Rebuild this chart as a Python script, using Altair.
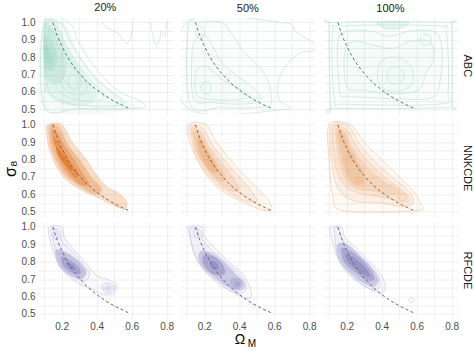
import altair as alt
import pandas as pd

# ---------------- data ----------------
METHODS = ["ABC", "NNKCDE", "RFCDE"]
FRACTIONS = ["20%", "50%", "100%"]

X_TICKS = [0.1, 0.2, 0.3, 0.4, 0.5, 0.6, 0.7, 0.8]
Y_TICKS = [0.5, 0.55, 0.6, 0.65, 0.7, 0.75, 0.8, 0.85, 0.9, 0.95, 1.0]

# dashed reference curve (Omega_M, sigma_8)
DASH_OM = [0.15, 0.175, 0.2, 0.225, 0.25, 0.3, 0.35, 0.4, 0.45, 0.5, 0.55, 0.58]
DASH_S8 = [1.0, 0.925, 0.866, 0.816, 0.774, 0.707, 0.654, 0.612, 0.577, 0.547, 0.522, 0.508]

# ---- ABC 20% ----
ABC20_FILL = [
    [(0.1, 1.0), (0.21, 1.0), (0.28, 0.86), (0.36, 0.73), (0.46, 0.63), (0.56, 0.56), (0.6, 0.5), (0.1, 0.5)],
    [(0.1, 1.0), (0.17, 1.0), (0.22, 0.88), (0.28, 0.77), (0.35, 0.67), (0.4, 0.59), (0.36, 0.53), (0.26, 0.52), (0.17, 0.55), (0.11, 0.6), (0.1, 0.64)],
    [(0.1, 0.98), (0.15, 0.96), (0.19, 0.87), (0.22, 0.79), (0.23, 0.72), (0.2, 0.66), (0.15, 0.65), (0.11, 0.68), (0.1, 0.72)],
    [(0.1, 0.92), (0.14, 0.9), (0.17, 0.83), (0.17, 0.76), (0.14, 0.72), (0.11, 0.73), (0.1, 0.76)],
    [(0.1, 0.87), (0.13, 0.85), (0.15, 0.8), (0.14, 0.76), (0.11, 0.77), (0.1, 0.8)],
]
ABC20_LINES = [
    [(0.1, 1.0), (0.24, 1.0), (0.3, 0.88), (0.37, 0.77), (0.45, 0.67), (0.53, 0.6), (0.6, 0.57), (0.66, 0.54), (0.68, 0.515), (0.6, 0.505), (0.3, 0.505), (0.1, 0.52)],
    [(0.11, 0.99), (0.2, 0.99), (0.26, 0.87), (0.33, 0.76), (0.41, 0.66), (0.5, 0.59), (0.55, 0.54), (0.5, 0.52), (0.36, 0.52), (0.22, 0.54), (0.13, 0.6), (0.11, 0.75)],
    [(0.13, 0.97), (0.18, 0.96), (0.23, 0.86), (0.3, 0.75), (0.37, 0.66), (0.44, 0.59), (0.42, 0.55), (0.32, 0.55), (0.22, 0.58), (0.16, 0.65), (0.13, 0.78)],
    [(0.14, 0.93), (0.18, 0.92), (0.22, 0.84), (0.28, 0.74), (0.34, 0.65), (0.33, 0.59), (0.26, 0.59), (0.2, 0.64), (0.16, 0.72), (0.14, 0.82)],
    [(0.16, 0.88), (0.2, 0.85), (0.24, 0.76), (0.3, 0.69), (0.31, 0.63), (0.26, 0.61), (0.22, 0.66), (0.18, 0.74), (0.15, 0.8)],
    [(0.17, 0.85), (0.2, 0.83), (0.21, 0.79), (0.18, 0.77), (0.16, 0.81)],
    [(0.25, 0.7), (0.28, 0.69), (0.29, 0.64), (0.26, 0.62), (0.24, 0.65)],
]
ABC20_OPEN = [
    [(0.43, 1.0), (0.46, 0.97), (0.5, 0.95), (0.53, 0.93), (0.55, 0.9), (0.57, 0.88), (0.59, 0.9), (0.6, 0.94), (0.61, 1.0)],
    [(0.71, 1.0), (0.72, 0.93), (0.74, 0.87), (0.76, 0.9), (0.77, 0.95), (0.79, 0.92), (0.8, 1.0)],
]

# ---- ABC 50% ----
ABC50_LINES = [
    [(0.1, 0.51), (0.1, 1.0), (0.64, 1.0), (0.72, 0.95), (0.78, 0.91), (0.83, 0.88), (0.83, 0.84), (0.74, 0.82), (0.66, 0.74), (0.62, 0.64), (0.63, 0.55), (0.66, 0.5)],
    [(0.12, 0.53), (0.11, 0.97), (0.18, 1.0), (0.3, 1.0), (0.36, 0.93), (0.42, 0.84), (0.5, 0.76), (0.56, 0.68), (0.58, 0.6), (0.58, 0.53), (0.5, 0.51), (0.3, 0.51)],
    [(0.14, 0.56), (0.13, 0.8), (0.15, 0.9), (0.2, 0.93), (0.25, 0.86), (0.3, 0.77), (0.38, 0.7), (0.46, 0.64), (0.52, 0.58), (0.5, 0.54), (0.38, 0.53), (0.24, 0.54)],
    [(0.16, 0.58), (0.15, 0.7), (0.19, 0.75), (0.25, 0.72), (0.32, 0.66), (0.42, 0.61), (0.45, 0.57), (0.38, 0.555), (0.26, 0.555)],
    [(0.18, 0.62), (0.2, 0.66), (0.23, 0.65), (0.24, 0.61), (0.21, 0.59)],
    [(0.15, 0.95), (0.17, 0.98), (0.2, 0.96), (0.2, 0.92), (0.17, 0.91)],
]

# ---- ABC 100% ----
ABC100_LINES = [
    [(0.11, 0.52), (0.1, 0.97), (0.13, 1.0), (0.77, 1.0), (0.8, 0.97), (0.8, 0.54), (0.77, 0.51), (0.14, 0.505)],
    [(0.13, 0.56), (0.12, 0.94), (0.18, 0.98), (0.72, 0.98), (0.77, 0.94), (0.78, 0.6), (0.73, 0.53), (0.2, 0.53)],
    [(0.16, 0.6), (0.15, 0.89), (0.21, 0.95), (0.34, 0.95), (0.44, 0.92), (0.56, 0.95), (0.69, 0.95), (0.74, 0.88), (0.74, 0.7), (0.69, 0.57), (0.5, 0.56), (0.3, 0.57), (0.2, 0.575)],
    [(0.2, 0.63), (0.19, 0.84), (0.25, 0.89), (0.35, 0.87), (0.46, 0.85), (0.56, 0.89), (0.67, 0.89), (0.7, 0.8), (0.65, 0.7), (0.61, 0.61), (0.46, 0.59), (0.3, 0.61)],
    [(0.38, 0.66), (0.39, 0.77), (0.47, 0.8), (0.56, 0.76), (0.58, 0.66), (0.52, 0.61), (0.43, 0.61)],
    [(0.43, 0.69), (0.45, 0.74), (0.5, 0.74), (0.53, 0.69), (0.5, 0.65), (0.45, 0.65)],
    [(0.62, 0.9), (0.64, 0.93), (0.68, 0.92), (0.68, 0.88), (0.64, 0.87)],
    [(0.38, 1.0), (0.42, 0.965), (0.5, 0.965), (0.55, 1.0)],
]

# ---- NNKCDE ----
NNK20_LINES = [
    [(0.12, 1.0), (0.2, 1.0), (0.26, 0.9), (0.34, 0.8), (0.4, 0.71), (0.46, 0.64), (0.52, 0.61), (0.57, 0.56), (0.56, 0.515), (0.49, 0.54), (0.41, 0.58), (0.32, 0.62), (0.23, 0.68), (0.17, 0.76), (0.13, 0.86), (0.115, 0.95)],
    [(0.13, 0.99), (0.185, 0.985), (0.24, 0.88), (0.31, 0.79), (0.37, 0.7), (0.43, 0.63), (0.39, 0.6), (0.31, 0.64), (0.23, 0.7), (0.18, 0.77), (0.14, 0.87)],
    [(0.14, 0.97), (0.175, 0.96), (0.22, 0.88), (0.28, 0.79), (0.33, 0.71), (0.36, 0.655), (0.31, 0.65), (0.25, 0.7), (0.19, 0.78), (0.15, 0.88)],
    [(0.15, 0.94), (0.19, 0.89), (0.25, 0.8), (0.3, 0.72), (0.28, 0.69), (0.22, 0.75), (0.17, 0.83)],
    [(0.17, 0.88), (0.22, 0.82), (0.27, 0.75), (0.25, 0.73), (0.2, 0.79), (0.17, 0.84)],
]
NNK50_LINES = [
    [(0.11, 1.0), (0.21, 1.0), (0.27, 0.9), (0.35, 0.8), (0.44, 0.7), (0.52, 0.62), (0.58, 0.545), (0.58, 0.505), (0.5, 0.52), (0.4, 0.565), (0.3, 0.62), (0.22, 0.7), (0.16, 0.8), (0.12, 0.9)],
    [(0.12, 0.99), (0.19, 0.98), (0.25, 0.88), (0.32, 0.79), (0.4, 0.7), (0.47, 0.62), (0.5, 0.56), (0.44, 0.56), (0.36, 0.6), (0.27, 0.66), (0.2, 0.74), (0.15, 0.83), (0.13, 0.92)],
    [(0.13, 0.98), (0.18, 0.96), (0.23, 0.87), (0.3, 0.78), (0.36, 0.7), (0.4, 0.63), (0.35, 0.62), (0.28, 0.67), (0.21, 0.75), (0.16, 0.84), (0.14, 0.92)],
    [(0.14, 0.96), (0.17, 0.94), (0.22, 0.86), (0.28, 0.77), (0.32, 0.7), (0.3, 0.67), (0.24, 0.72), (0.18, 0.8), (0.15, 0.88)],
    [(0.16, 0.93), (0.2, 0.88), (0.25, 0.8), (0.28, 0.74), (0.25, 0.72), (0.2, 0.78), (0.17, 0.85)],
    [(0.17, 0.93), (0.2, 0.91), (0.21, 0.86), (0.18, 0.86), (0.16, 0.9)],
    [(0.22, 0.82), (0.26, 0.79), (0.27, 0.75), (0.24, 0.75), (0.21, 0.79)],
]
NNK100_LINES = [
    [(0.1, 1.0), (0.22, 1.0), (0.3, 0.9), (0.4, 0.8), (0.5, 0.7), (0.58, 0.62), (0.62, 0.55), (0.6, 0.505), (0.18, 0.505), (0.12, 0.6), (0.1, 0.8)],
    [(0.11, 0.99), (0.21, 0.99), (0.28, 0.88), (0.37, 0.78), (0.47, 0.69), (0.56, 0.61), (0.58, 0.55), (0.52, 0.53), (0.4, 0.55), (0.25, 0.56), (0.16, 0.62), (0.12, 0.75)],
    [(0.12, 0.98), (0.2, 0.97), (0.26, 0.87), (0.34, 0.77), (0.44, 0.68), (0.54, 0.6), (0.52, 0.56), (0.42, 0.58), (0.3, 0.6), (0.2, 0.64), (0.14, 0.75)],
    [(0.14, 0.97), (0.19, 0.95), (0.24, 0.85), (0.31, 0.76), (0.4, 0.68), (0.5, 0.62), (0.46, 0.6), (0.36, 0.62), (0.27, 0.63), (0.2, 0.68), (0.16, 0.8)],
    [(0.15, 0.95), (0.19, 0.93), (0.23, 0.84), (0.29, 0.74), (0.3, 0.67), (0.24, 0.66), (0.2, 0.72), (0.17, 0.83)],
    [(0.16, 0.97), (0.19, 0.96), (0.19, 0.91), (0.16, 0.91)],
    [(0.21, 0.83), (0.24, 0.84), (0.25, 0.79), (0.22, 0.78)],
    [(0.24, 0.7), (0.28, 0.7), (0.3, 0.66), (0.26, 0.65)],
    [(0.49, 0.6), (0.54, 0.6), (0.56, 0.56), (0.51, 0.56)],
]

# ---- RFCDE ----
RF20_LINES = [
    [(0.13, 1.0), (0.2, 1.0), (0.22, 0.93), (0.28, 0.86), (0.34, 0.79), (0.4, 0.72), (0.46, 0.7), (0.51, 0.67), (0.5, 0.62), (0.44, 0.61), (0.38, 0.64), (0.33, 0.66), (0.26, 0.7), (0.2, 0.76), (0.16, 0.84), (0.13, 0.94)],
    [(0.14, 0.99), (0.19, 0.98), (0.2, 0.92), (0.26, 0.86), (0.32, 0.79), (0.36, 0.73), (0.33, 0.69), (0.27, 0.72), (0.21, 0.77), (0.17, 0.85), (0.15, 0.93)],
    [(0.17, 0.87), (0.23, 0.85), (0.3, 0.8), (0.34, 0.74), (0.31, 0.7), (0.25, 0.72), (0.19, 0.77), (0.17, 0.82)],
    [(0.2, 0.83), (0.25, 0.81), (0.3, 0.77), (0.31, 0.73), (0.27, 0.73), (0.22, 0.76), (0.2, 0.79)],
    [(0.22, 0.8), (0.26, 0.79), (0.29, 0.75), (0.26, 0.75), (0.23, 0.77)],
    [(0.43, 0.66), (0.46, 0.68), (0.5, 0.66), (0.49, 0.63), (0.45, 0.62)],
    [(0.45, 0.65), (0.47, 0.66), (0.48, 0.645), (0.46, 0.635)],
    [(0.15, 0.97), (0.17, 0.98), (0.18, 0.94), (0.16, 0.93)],
]
RF50_LINES = [
    [(0.11, 1.0), (0.19, 1.0), (0.2, 0.95), (0.26, 0.88), (0.34, 0.8), (0.42, 0.73), (0.46, 0.66), (0.47, 0.6), (0.43, 0.59), (0.37, 0.62), (0.3, 0.66), (0.24, 0.71), (0.18, 0.78), (0.14, 0.86), (0.12, 0.94)],
    [(0.12, 0.99), (0.18, 0.98), (0.19, 0.93), (0.24, 0.87), (0.31, 0.81), (0.39, 0.74), (0.44, 0.67), (0.42, 0.62), (0.36, 0.63), (0.29, 0.68), (0.22, 0.73), (0.16, 0.81), (0.13, 0.9)],
    [(0.18, 0.86), (0.24, 0.85), (0.31, 0.8), (0.37, 0.74), (0.42, 0.68), (0.39, 0.64), (0.33, 0.66), (0.26, 0.71), (0.2, 0.76), (0.17, 0.81)],
    [(0.2, 0.84), (0.26, 0.83), (0.31, 0.78), (0.32, 0.73), (0.27, 0.72), (0.22, 0.75), (0.19, 0.8)],
    [(0.23, 0.81), (0.27, 0.8), (0.29, 0.76), (0.26, 0.75), (0.23, 0.77)],
    [(0.35, 0.7), (0.39, 0.71), (0.43, 0.68), (0.42, 0.64), (0.37, 0.64), (0.35, 0.67)],
    [(0.37, 0.69), (0.4, 0.69), (0.41, 0.66), (0.38, 0.65)],
    [(0.14, 0.98), (0.16, 0.99), (0.17, 0.95), (0.15, 0.94)],
]
RF100_LINES = [
    [(0.11, 1.0), (0.17, 1.0), (0.19, 0.94), (0.25, 0.88), (0.33, 0.8), (0.4, 0.72), (0.42, 0.65), (0.4, 0.62), (0.36, 0.63), (0.3, 0.66), (0.22, 0.72), (0.16, 0.8), (0.13, 0.88), (0.11, 0.95)],
    [(0.13, 0.99), (0.16, 0.98), (0.18, 0.92), (0.24, 0.87), (0.32, 0.79), (0.38, 0.72), (0.39, 0.66), (0.35, 0.64), (0.29, 0.67), (0.22, 0.73), (0.16, 0.8), (0.14, 0.88)],
    [(0.15, 0.9), (0.2, 0.9), (0.27, 0.84), (0.34, 0.77), (0.38, 0.7), (0.36, 0.66), (0.31, 0.67), (0.24, 0.72), (0.18, 0.78), (0.15, 0.84)],
    [(0.17, 0.88), (0.21, 0.87), (0.28, 0.82), (0.34, 0.75), (0.36, 0.7), (0.32, 0.69), (0.26, 0.73), (0.19, 0.79), (0.17, 0.84)],
    [(0.19, 0.85), (0.24, 0.83), (0.3, 0.78), (0.34, 0.72), (0.32, 0.71), (0.27, 0.74), (0.21, 0.79), (0.19, 0.82)],
    [(0.555, 0.585), (0.57, 0.595), (0.585, 0.58), (0.57, 0.565)],
]

# ---------------- styling ----------------
COLORS = {"ABC": "#1B9E77", "NNKCDE": "#D95F02", "RFCDE": "#7570B3"}
TINTS = {"ABC": "#b9e3d6", "NNKCDE": "#f5c6a3", "RFCDE": "#c8c6e5"}
DASHC = {"ABC": "#3d8873", "NNKCDE": "#9a5c35", "RFCDE": "#646195"}

PANEL_DATA = {
    ("ABC", "20%"): (ABC20_FILL, ABC20_LINES, ABC20_OPEN, [0.05, 0.07, 0.1, 0.1, 0.1]),
    ("ABC", "50%"): (ABC50_LINES, ABC50_LINES, [], [0.008, 0.01, 0.012, 0.012, 0.012, 0.012]),
    ("ABC", "100%"): (ABC100_LINES, ABC100_LINES, [], [0.008, 0.008, 0.01, 0.012, 0.012, 0.012, 0.012, 0.08]),
    ("NNKCDE", "20%"): (NNK20_LINES, NNK20_LINES, [], [0.2, 0.25, 0.3, 0.3, 0.28]),
    ("NNKCDE", "50%"): (NNK50_LINES, NNK50_LINES, [], [0.05, 0.08, 0.1, 0.12, 0.14, 0.05, 0.05]),
    ("NNKCDE", "100%"): (NNK100_LINES, NNK100_LINES, [], [0.04, 0.06, 0.08, 0.1, 0.12, 0.05, 0.05, 0.05, 0.03]),
    ("RFCDE", "20%"): (RF20_LINES, RF20_LINES, [], [0.04, 0.06, 0.35, 0.4, 0.35, 0.08, 0.08, 0.03]),
    ("RFCDE", "50%"): (RF50_LINES, RF50_LINES, [], [0.04, 0.06, 0.3, 0.4, 0.35, 0.22, 0.15, 0.03]),
    ("RFCDE", "100%"): (RF100_LINES, RF100_LINES, [], [0.04, 0.06, 0.3, 0.38, 0.38, 0.0]),
}

W = 134.75
H = 95.7
FONT = "Liberation Sans"
X_DOMAIN = [0.065, 0.835]
Y_DOMAIN = [0.475, 1.025]


def poly_frame(polys, alphas=None):
    rows = []
    for i, p in enumerate(polys):
        a = alphas[i] if alphas is not None and i < len(alphas) else 0.0
        for j, (x, y) in enumerate(p):
            rows.append({"pid": i, "o": j, "x": x, "y": y, "a": a})
    return pd.DataFrame(rows)


def panel(method, frac, row, col):
    fills, lines, opens, alphas = PANEL_DATA[(method, frac)]
    xs = alt.Scale(domain=X_DOMAIN, nice=False, zero=False)
    ys = alt.Scale(domain=Y_DOMAIN, nice=False, zero=False)
    xaxis = alt.Axis(values=X_TICKS, grid=True, ticks=False, domain=False,
                     labels=(row == 2), title=None,
                     labelExpr="abs(datum.value*5 - round(datum.value*5)) < 0.01 ? format(datum.value, '.1f') : ''")
    yaxis = alt.Axis(values=Y_TICKS, grid=True, ticks=False, domain=False,
                     labels=(col == 0),
                     title=("σ₈" if (row == 1 and col == 0) else None),
                     labelExpr="abs(datum.value*10 - round(datum.value*10)) < 0.01 ? format(datum.value, '.1f') : ''")
    X = alt.X("x:Q", scale=xs, axis=xaxis)
    Y = alt.Y("y:Q", scale=ys, axis=yaxis)

    layers = []
    fill_layer = alt.Chart(poly_frame(fills, alphas)).mark_line(
        filled=True, fill=COLORS[method], strokeWidth=0, clip=True, interpolate="cardinal-closed"
    ).encode(x=X, y=Y, detail="pid:N", order="o:Q",
             fillOpacity=alt.FillOpacity("a:Q", scale=None))
    layers.append(fill_layer)
    line_layer = alt.Chart(poly_frame(lines)).mark_line(
        stroke=TINTS[method], strokeWidth=0.65, clip=True, interpolate="cardinal-closed"
    ).encode(x=X, y=Y, detail="pid:N", order="o:Q")
    layers.append(line_layer)
    if opens:
        open_layer = alt.Chart(poly_frame(opens)).mark_line(
            stroke=TINTS[method], strokeWidth=0.65, clip=True, interpolate="cardinal"
        ).encode(x=X, y=Y, detail="pid:N", order="o:Q")
        layers.append(open_layer)
    dash = alt.Chart(pd.DataFrame({"x": DASH_OM, "y": DASH_S8})).mark_line(
        stroke=DASHC[method], strokeWidth=1, strokeDash=[3, 2.5], clip=True, interpolate="monotone"
    ).encode(x=X, y=Y)
    layers.append(dash)
    ch = alt.layer(*layers).properties(width=W, height=H)
    if row == 0:
        ch = ch.properties(title=alt.TitleParams(frac, font=FONT, fontSize=11, color="#1A1A1A",
                                                 fontWeight="normal", offset=4))
    return ch


def row_label(method):
    return alt.Chart(pd.DataFrame({"t": [method]})).mark_text(
        font=FONT, fontSize=11, color="#1A1A1A", angle=90, align="center", baseline="middle"
    ).encode(text="t:N", x=alt.value(1), y=alt.value(H / 2)).properties(width=8, height=H)


def blank(w, h):
    return alt.Chart(pd.DataFrame({"t": [""]})).mark_text().encode(
        text="t:N").properties(width=w, height=h)


def x_title():
    om = alt.Chart(pd.DataFrame({"t": ["Ω"]})).mark_text(
        font=FONT, fontSize=14, color="black", align="center", baseline="middle"
    ).encode(text="t:N", x=alt.value(W / 2 - 8), y=alt.value(15))
    sub = alt.Chart(pd.DataFrame({"t": ["M"]})).mark_text(
        font=FONT, fontSize=10, color="black", align="center", baseline="middle"
    ).encode(text="t:N", x=alt.value(W / 2 + 4), y=alt.value(19))
    return alt.layer(om, sub).properties(width=W, height=22)


cells = []
for r, m in enumerate(METHODS):
    for c, f in enumerate(FRACTIONS):
        cells.append(panel(m, f, r, c))
    cells.append(row_label(m))
cells += [blank(W, 22), x_title(), blank(W, 22), blank(8, 22)]

chart = alt.concat(*cells, columns=4, spacing={"row": 6.3, "column": 7.5}, bounds="flush").properties(
    padding={"left": 2, "top": 2, "right": 0, "bottom": 0},
    background="white",
).configure_view(strokeWidth=0).configure_axis(
    labelFont=FONT, labelFontSize=10, labelColor="#4D4D4D", labelPadding=3,
    gridColor="#EBEBEB", gridWidth=0.8,
    titleFont=FONT, titleFontSize=16, titleColor="black", titleFontWeight="normal", titlePadding=3,
)

chart.save("out.html", embed_options={"renderer": "svg", "actions": False})
